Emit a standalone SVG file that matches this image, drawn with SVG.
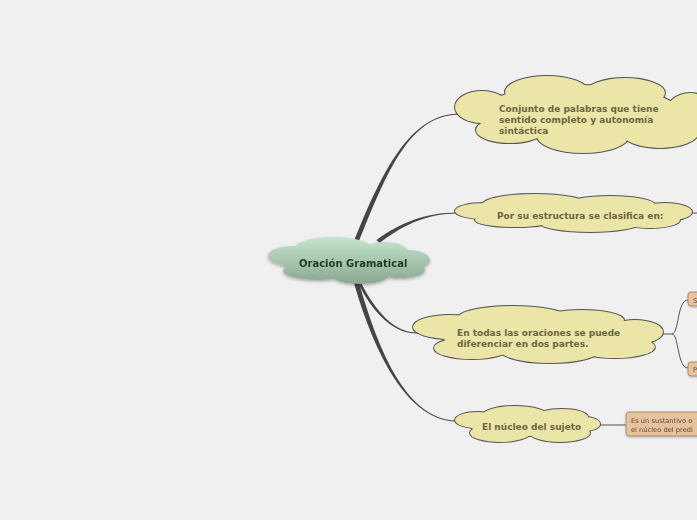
<svg xmlns="http://www.w3.org/2000/svg" width="697" height="520" viewBox="0 0 697 520">
<defs>
<style>
.bg{fill:#f0f0f0}
.cl-s{fill:#ebe6a7;stroke:#555;stroke-width:2}
.cl-f{fill:#ebe6a7;stroke:none}
.t{font-family:"DejaVu Sans",Verdana,sans-serif;font-weight:bold;font-size:9px;fill:#696740}
.tc{font-family:"DejaVu Sans",Verdana,sans-serif;font-weight:bold;font-size:10px;fill:#1f3a26}
.box{fill:#e8c19d;stroke:#a98b70;stroke-width:1}
.bt{font-family:"DejaVu Sans",Verdana,sans-serif;font-size:6.7px;fill:#5b4b3d}
.thin{fill:none;stroke:#555;stroke-width:1}
.thick{fill:#454545;stroke:none}
</style>
<linearGradient id="gc" gradientUnits="userSpaceOnUse" x1="0" y1="237" x2="0" y2="285">
<stop offset="0" stop-color="#c6e5cd"/>
<stop offset="1" stop-color="#88a690"/>
</linearGradient>
<filter id="sh" x="-10%" y="-20%" width="120%" height="160%">
<feDropShadow dx="0" dy="1.5" stdDeviation="1.5" flood-color="#000" flood-opacity="0.3"/>
</filter>
<filter id="bsh" x="-10%" y="-20%" width="130%" height="160%">
<feDropShadow dx="0.5" dy="1" stdDeviation="0.8" flood-color="#000" flood-opacity="0.25"/>
</filter>
<g id="cloud1">
<ellipse cx="482" cy="107" rx="27" ry="16"/>
<ellipse cx="547" cy="92" rx="42" ry="16"/>
<ellipse cx="625" cy="93" rx="40" ry="15"/>
<ellipse cx="690" cy="115" rx="25" ry="22"/>
<ellipse cx="510" cy="130" rx="34" ry="13"/>
<ellipse cx="583" cy="136" rx="46" ry="17"/>
<ellipse cx="660" cy="133" rx="38" ry="15"/>
<ellipse cx="580" cy="113" rx="100" ry="28"/>
</g>
<g id="cloud2">
<ellipse cx="485" cy="211" rx="30" ry="8"/>
<ellipse cx="535" cy="204" rx="52" ry="10"/>
<ellipse cx="610" cy="205" rx="45" ry="9"/>
<ellipse cx="665" cy="212" rx="27" ry="9"/>
<ellipse cx="515" cy="220" rx="40" ry="7"/>
<ellipse cx="590" cy="223" rx="50" ry="9"/>
<ellipse cx="650" cy="220" rx="30" ry="8"/>
<ellipse cx="575" cy="213" rx="90" ry="12"/>
</g>
<g id="cloud3">
<ellipse cx="450" cy="327" rx="37" ry="12"/>
<ellipse cx="513" cy="318" rx="55" ry="12"/>
<ellipse cx="582" cy="320" rx="42" ry="10"/>
<ellipse cx="635" cy="332" rx="28" ry="12"/>
<ellipse cx="472" cy="348" rx="38" ry="11"/>
<ellipse cx="550" cy="350" rx="50" ry="13"/>
<ellipse cx="615" cy="347" rx="40" ry="11"/>
<ellipse cx="540" cy="334" rx="100" ry="18"/>
</g>
<g id="cloud4">
<ellipse cx="478" cy="420" rx="23" ry="8"/>
<ellipse cx="515" cy="415" rx="32" ry="9"/>
<ellipse cx="562" cy="417" rx="26" ry="8"/>
<ellipse cx="585" cy="424" rx="15" ry="7"/>
<ellipse cx="500" cy="433" rx="30" ry="9"/>
<ellipse cx="560" cy="433" rx="30" ry="9"/>
<ellipse cx="528" cy="424" rx="60" ry="12"/>
</g>
</defs>

<rect class="bg" x="0" y="0" width="697" height="520"/>

<g id="connectors">
<path class="thick" d="M352.5,245 C382.5,170 410,113.5 460,113.5 L460,114.5 C410,114.5 387.5,170 357.5,245 Z"/>
<path class="thick" d="M376.5,240 C399,223.5 425,212.5 458,212.5 L458,213.5 C425,213.5 401,226.5 379.5,243 Z"/>
<path class="thick" d="M355.5,278 C373.5,316 395,333.5 417,333.5 L417,332.5 C395,332.5 376.5,314 358.5,278 Z"/>
<path class="thick" d="M352.5,278 C367.5,331 400,421.5 457,421.5 L457,420.5 C400,420.5 372.5,329 357.5,278 Z"/>
<path class="thin" d="M688,213 L697,213"/>
<path class="thin" d="M660,334 L672,334 C679,334 677,300 688,300"/>
<path class="thin" d="M672,334 C679,334 677,368 688,368"/>
<path class="thin" d="M597,425 L626,425"/>
</g>

<g id="node-center" filter="url(#sh)">
<g fill="url(#gc)">
<ellipse cx="292" cy="256" rx="24" ry="10"/>
<ellipse cx="333" cy="248" rx="38" ry="11"/>
<ellipse cx="385" cy="251" rx="22" ry="9"/>
<ellipse cx="408" cy="260" rx="22" ry="10"/>
<ellipse cx="318" cy="271" rx="35" ry="9"/>
<ellipse cx="360" cy="274" rx="30" ry="10"/>
<ellipse cx="400" cy="270" rx="25" ry="8"/>
<ellipse cx="350" cy="262" rx="70" ry="14"/>
</g>
<text class="tc" x="299" y="267">Oración Gramatical</text>
</g>

<g id="node-conjunto">
<use href="#cloud1" class="cl-s"/>
<use href="#cloud1" class="cl-f"/>
<text class="t" x="499" y="112">Conjunto de palabras que tiene</text>
<text class="t" x="499" y="123">sentido completo y autonomía</text>
<text class="t" x="499" y="134">sintáctica</text>
</g>

<g id="node-estructura">
<use href="#cloud2" class="cl-s"/>
<use href="#cloud2" class="cl-f"/>
<text class="t" x="497" y="219">Por su estructura se clasifica en:</text>
</g>

<g id="node-partes">
<use href="#cloud3" class="cl-s"/>
<use href="#cloud3" class="cl-f"/>
<text class="t" x="457" y="336">En todas las oraciones se puede</text>
<text class="t" x="457" y="347">diferenciar en dos partes.</text>
</g>

<g id="node-nucleo">
<use href="#cloud4" class="cl-s"/>
<use href="#cloud4" class="cl-f"/>
<text class="t" x="482" y="430">El núcleo del sujeto</text>
</g>

<g id="node-s" filter="url(#bsh)">
<rect class="box" x="688" y="292" width="40" height="14" rx="3"/>
<text class="bt" x="693" y="302.5">S</text>
</g>

<g id="node-p" filter="url(#bsh)">
<rect class="box" x="688" y="362" width="40" height="14" rx="3"/>
<text class="bt" x="693" y="372">P</text>
</g>

<g id="node-es" filter="url(#bsh)">
<rect class="box" x="626" y="412" width="110" height="24" rx="3"/>
<text class="bt" x="631" y="423">Es un sustantivo o</text>
<text class="bt" x="631" y="431.5">el núcleo del predi</text>
</g>
</svg>
